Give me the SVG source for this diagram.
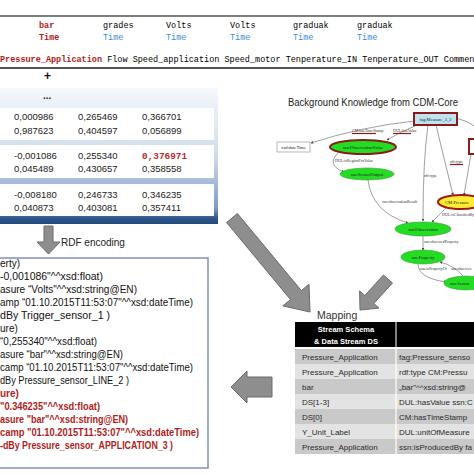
<svg xmlns="http://www.w3.org/2000/svg" width="474" height="474" viewBox="0 0 474 474">
<defs>
<style>
.mono{font-family:"Liberation Mono","DejaVu Sans Mono",monospace;font-size:8.5px}
.redb{fill:#b01c22;font-weight:bold}
.blue{fill:#3a8fd0}
.num{font-family:"Liberation Sans",Arial,sans-serif;font-size:9.5px;fill:#222}
.rdf{font-family:"Liberation Sans",Arial,sans-serif;font-size:10px;fill:#111}
.rdfr{font-family:"Liberation Sans",Arial,sans-serif;font-size:10px;fill:#b01c22;font-weight:bold}
.lbl{font-family:"Liberation Sans",Arial,sans-serif;font-size:10px;fill:#222}
.tbl{font-family:"Liberation Sans",Arial,sans-serif;font-size:8px;fill:#2a2a2a}
.th{font-family:"Liberation Sans",Arial,sans-serif;font-size:7.5px;fill:#fff;font-weight:bold}
.nt{font-family:"Liberation Serif","Times New Roman",serif;font-size:4.6px;fill:#222}
.el{font-family:"Liberation Serif","Times New Roman",serif;font-size:4px;fill:#333}
.edge{fill:none;stroke:#777;stroke-width:0.7}
.garrow{fill:#8e8e8e;stroke:#6a6a6a;stroke-width:1}
.green{fill:#22dd22;stroke:#3a9a3a;stroke-width:0.6}
</style>
<linearGradient id="pg" x1="0" y1="0" x2="0" y2="1">
<stop offset="0" stop-color="#f5f8fc"/>
<stop offset="0.5" stop-color="#cfdcec"/>
<stop offset="0.88" stop-color="#7f9dc6"/>
<stop offset="0.96" stop-color="#2d5689"/>
<stop offset="1" stop-color="#22497c"/>
</linearGradient>
<marker id="ah" viewBox="0 0 6 6" refX="5" refY="3" markerWidth="4" markerHeight="4" orient="auto">
<path d="M0,0 L6,3 L0,6 z" fill="#444"/>
</marker>
</defs>
<rect width="474" height="474" fill="#fff"/>

<!-- top stream schema -->
<g id="schema">
<line x1="0" y1="16" x2="474" y2="16" stroke="#555" stroke-width="1.5"/>
<text class="mono redb" x="39" y="28">bar</text>
<text class="mono redb" x="39" y="40">Time</text>
<text class="mono" x="103" y="28">grades</text>
<text class="mono blue" x="103" y="40">Time</text>
<text class="mono" x="166" y="28">Volts</text>
<text class="mono blue" x="166" y="40">Time</text>
<text class="mono" x="230" y="28">Volts</text>
<text class="mono blue" x="230" y="40">Time</text>
<text class="mono" x="293" y="28">graduak</text>
<text class="mono blue" x="293" y="40">Time</text>
<text class="mono" x="357" y="28">graduak</text>
<text class="mono blue" x="357" y="40">Time</text>
<text class="mono" x="0" y="62"><tspan class="redb">Pressure_Application</tspan> Flow Speed_application Speed_motor Tenperature_IN Tenperature_OUT Commen</text>
<line x1="0" y1="68" x2="474" y2="68" stroke="#555" stroke-width="2"/>
<text x="47.5" y="80" text-anchor="middle" font-family="Liberation Sans,Arial,sans-serif" font-size="12" font-weight="bold" fill="#111">+</text>
</g>

<!-- data panel -->
<g id="data">
<rect x="0" y="88" width="218" height="136" fill="url(#pg)"/>
<text x="43" y="99" font-family="Liberation Sans,Arial,sans-serif" font-size="10" font-weight="bold" fill="#333">...</text>
<rect x="0" y="108" width="214" height="32" fill="#fff"/>
<rect x="0" y="145" width="214" height="33" fill="#fff"/>
<rect x="0" y="184" width="214" height="32" fill="#fff"/>
<text class="num" x="14" y="120">0,000986</text>
<text class="num" x="78" y="120">0,265469</text>
<text class="num" x="142" y="120">0,366701</text>
<text class="num" x="14" y="134">0,987623</text>
<text class="num" x="78" y="134">0,404597</text>
<text class="num" x="142" y="134">0,056899</text>
<text class="num" x="14" y="159">-0,001086</text>
<text class="num" x="78" y="159">0,255340</text>
<text x="142" y="159" font-family="Liberation Mono,monospace" font-size="9.4" font-weight="bold" fill="#c0282d">0,376971</text>
<text class="num" x="14" y="172">0,045489</text>
<text class="num" x="78" y="172">0,430657</text>
<text class="num" x="142" y="172">0,358558</text>
<text class="num" x="14" y="198">-0,008180</text>
<text class="num" x="78" y="198">0,246733</text>
<text class="num" x="142" y="198">0,346235</text>
<text class="num" x="14" y="211">0,040873</text>
<text class="num" x="78" y="211">0,403081</text>
<text class="num" x="142" y="211">0,357411</text>
</g>

<!-- arrows -->
<g id="connectors">
<polygon class="garrow" points="44,226 53,226 53,242 60,242 48.5,254 37,242 44,242"/>
<text class="lbl" x="61" y="246">RDF encoding</text>
<polygon class="garrow" points="237.4,213.5 301.3,290.6 309,284.2 310,312 282.8,305.9 290.5,299.6 226.6,222.5"/>
<polygon class="garrow" points="392.5,283 373.8,303.5 379,308.1 360,310 359.6,290.9 364.8,295.5 383.5,275"/>
<polygon class="garrow" points="231,387 247,371 247,377 272,377 272,397 247,397 247,403"/>
</g>

<!-- RDF box -->
<g id="rdf">
<rect x="-2" y="258" width="210" height="210" fill="#fff" stroke="#7f8fbf" stroke-width="1.5"/>
<text class="rdf" x="0" y="267">erty)</text>
<text class="rdf" x="0" y="280" textLength="103" lengthAdjust="spacingAndGlyphs">-0,001086"^^xsd:float)</text>
<text class="rdf" x="0" y="293" textLength="137" lengthAdjust="spacingAndGlyphs">asure “Volts"^^xsd:string@EN)</text>
<text class="rdf" x="0" y="306" textLength="193" lengthAdjust="spacingAndGlyphs">amp “01.10.2015T11:53:07"^^xsd:dateTime)</text>
<text class="rdf" x="0" y="319" textLength="110" lengthAdjust="spacingAndGlyphs">dBy Trigger_sensor_1 )</text>
<text class="rdf" x="0" y="332">ure)</text>
<text class="rdf" x="0" y="345" textLength="97" lengthAdjust="spacingAndGlyphs">“0,255340"^^xsd:float)</text>
<text class="rdf" x="0" y="358" textLength="123" lengthAdjust="spacingAndGlyphs">asure “bar"^^xsd:string@EN)</text>
<text class="rdf" x="0" y="371" textLength="193" lengthAdjust="spacingAndGlyphs">camp “01.10.2015T11:53:07"^^xsd:dateTime)</text>
<text class="rdf" x="0" y="384" textLength="129" lengthAdjust="spacingAndGlyphs">dBy Pressure_sensor_LINE_2 )</text>
<text class="rdfr" x="0" y="397">ure)</text>
<text class="rdfr" x="0" y="410" textLength="100" lengthAdjust="spacingAndGlyphs">"0.346235"^^xsd:float)</text>
<text class="rdfr" x="0" y="423" textLength="128" lengthAdjust="spacingAndGlyphs">asure "bar"^^xsd:string@EN)</text>
<text class="rdfr" x="0" y="436" textLength="199" lengthAdjust="spacingAndGlyphs">camp "01.10.2015T11:53:07"^^xsd:dateTime)</text>
<text class="rdfr" x="0" y="449" textLength="173" lengthAdjust="spacingAndGlyphs">-dBy Pressure_sensor_APPLICATION_3 )</text>
</g>

<!-- background knowledge graph -->
<text class="lbl" x="288" y="106" textLength="170" lengthAdjust="spacingAndGlyphs">Background Knowledge from CDM-Core</text>
<g id="graph-edges">
<path class="edge" d="M414,121 Q360,127 311,143" marker-end="url(#ah)"/>
<path class="edge" d="M417,125 Q400,132 387,140" marker-end="url(#ah)"/>
<path class="edge" d="M428,125 Q423,160 423,221" marker-end="url(#ah)"/>
<path class="edge" d="M436,125 L453,195" marker-end="url(#ah)"/>
<path class="edge" d="M456,118 Q468,121 476,127"/>
<path class="edge" d="M471,154 L464,195" marker-end="url(#ah)"/>
<path class="edge" d="M338,153 Q326,165 344,172" marker-end="url(#ah)"/>
<path class="edge" d="M368,180 Q372,212 408,223" marker-end="url(#ah)"/>
<path class="edge" d="M446,208 L432,222" marker-end="url(#ah)"/>
<path class="edge" d="M423,236 L423,250" marker-end="url(#ah)"/>
<path class="edge" d="M418,264 Q418,278 446,282" marker-end="url(#ah)"/>
<path class="edge" d="M463,276 Q455,266 440,262" marker-end="url(#ah)"/>
<text class="el" x="352" y="132">CM:hasTimeStamp</text>
<line x1="352" y1="133.5" x2="376" y2="133.5" stroke="#8b1a1a" stroke-width="1.2"/>
<text class="el" x="393" y="132">DUL:hasValue</text>
<line x1="393" y1="133.5" x2="411" y2="133.5" stroke="#8b1a1a" stroke-width="1.2"/>
<text class="el" x="424" y="177">rdf:type</text>
<text class="el" x="450" y="163">rdf:type</text>
<line x1="450" y1="164.5" x2="463" y2="164.5" stroke="#8b1a1a" stroke-width="1.2"/>
<text class="el" x="335" y="162">DUL:isRegionForValue</text>
<text class="el" x="382" y="203">ssn:observationResult</text>
<text class="el" x="442" y="216">DUL:isClassifiedBy</text>
<text class="el" x="382" y="243" dx="42">ssn:observedProperty</text>
<text class="el" x="420" y="270">ssn:isPropertyOf</text>
<text class="el" x="451" y="270">ssn:observes</text>
</g>
<g id="n-measure">
<rect x="414" y="113" width="43" height="12" fill="#bfe3f0" stroke="#8b1a1a" stroke-width="2"/>
<text class="nt" x="435.5" y="120.8" text-anchor="middle">fag:Measure_3_2</text>
</g>
<g id="n-rightbox">
<rect x="469" y="139" width="10" height="15" fill="#fff" stroke="#8b1a1a" stroke-width="2"/>
</g>
<g id="n-datetime">
<rect x="277" y="142" width="33" height="10" fill="#fff" stroke="#888" stroke-width="0.6"/>
<text class="nt" x="293.5" y="148.6" text-anchor="middle">xsd:dateTime</text>
</g>
<g id="n-obsvalue">
<ellipse cx="363" cy="147" rx="33" ry="7" fill="#22dd22" stroke="#8b1a1a" stroke-width="2"/>
<text class="nt" x="363" y="148.7" text-anchor="middle">ssn:ObservationValue</text>
</g>
<g id="n-sensoroutput">
<ellipse class="green" cx="367" cy="174" rx="27" ry="6"/>
<text class="nt" x="367" y="175.7" text-anchor="middle">ssn:SensorOutput</text>
</g>
<g id="n-pressure">
<ellipse cx="461" cy="202" rx="23" ry="7" fill="#ffee33" stroke="#a01818" stroke-width="2"/>
<text class="nt" x="445" y="203.7">CM:Pressure</text>
</g>
<g id="n-observation">
<ellipse class="green" cx="423" cy="229" rx="28" ry="7"/>
<text class="nt" x="423" y="230.7" text-anchor="middle">ssn:Observation</text>
</g>
<g id="n-property">
<ellipse class="green" cx="423" cy="257" rx="22" ry="7"/>
<text class="nt" x="423" y="258.7" text-anchor="middle">ssn:Property</text>
</g>
<g id="n-sensor">
<ellipse class="green" cx="466" cy="283" rx="22" ry="7"/>
<text class="nt" x="450" y="284.7">ssn:Sensor</text>
</g>

<!-- mapping table -->
<g id="mapping">
<text x="317" y="319" font-family="Liberation Sans,Arial,sans-serif" font-size="10.5" fill="#333">Mapping</text>
<rect x="295" y="322" width="179" height="25" fill="#000"/>
<line x1="396" y1="322" x2="396" y2="347" stroke="#fff" stroke-width="1"/>
<text class="th" x="346" y="332" text-anchor="middle">Stream Schema</text>
<text class="th" x="346" y="344" text-anchor="middle">&amp; Data Stream DS</text>
<rect x="295" y="349" width="179" height="15" fill="#c9c9c9"/>
<rect x="295" y="364" width="179" height="15" fill="#e3e3e3"/>
<rect x="295" y="379" width="179" height="15" fill="#c9c9c9"/>
<rect x="295" y="394" width="179" height="15" fill="#e3e3e3"/>
<rect x="295" y="409" width="179" height="15" fill="#c9c9c9"/>
<rect x="295" y="424" width="179" height="15" fill="#e3e3e3"/>
<rect x="295" y="439" width="179" height="15" fill="#c9c9c9"/>
<line x1="396" y1="349" x2="396" y2="454" stroke="#fff" stroke-width="1.2"/>
<text class="tbl" x="302" y="359.5">Pressure_Application</text>
<text class="tbl" x="302" y="374.5">Pressure_Application</text>
<text class="tbl" x="302" y="389.5">bar</text>
<text class="tbl" x="302" y="404.5">DS[1-3]</text>
<text class="tbl" x="302" y="419.5">DS[0]</text>
<text class="tbl" x="302" y="434.5">Y_Unit_Label</text>
<text class="tbl" x="302" y="449.5">Pressure_Application</text>
<text class="tbl" x="399" y="359.5">fag:Pressure_senso</text>
<text class="tbl" x="399" y="374.5">rdf:type CM:Pressu</text>
<text class="tbl" x="399" y="389.5">„bar"^^xsd:string@</text>
<text class="tbl" x="399" y="404.5">DUL:hasValue ssn:C</text>
<text class="tbl" x="399" y="419.5">CM:hasTimeStamp</text>
<text class="tbl" x="399" y="434.5">DUL:unitOfMeasure</text>
<text class="tbl" x="399" y="449.5">ssn:isProducedBy fa</text>
</g>
</svg>
